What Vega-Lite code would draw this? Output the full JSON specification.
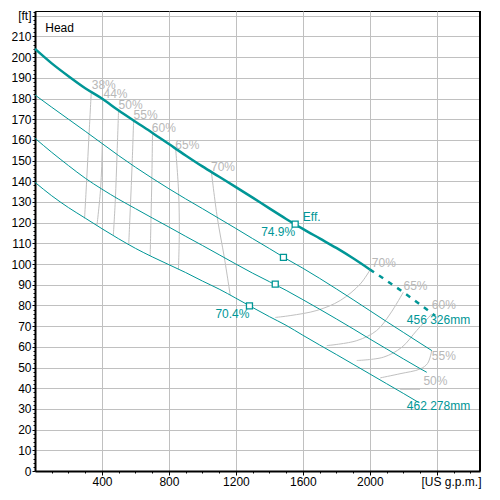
{
  "$schema": "https://vega.github.io/schema/vega-lite/v6.json",
  "width": 445,
  "height": 460,
  "autosize": {"type": "none"},
  "padding": {"left": 35, "top": 11, "right": 20, "bottom": 29},
  "background": "white",
  "config": {
    "view": {"stroke": "#000000", "strokeWidth": 1},
    "font": "Liberation Sans",
    "axis": {
      "labelFont": "Liberation Sans",
      "labelFontSize": 12,
      "labelColor": "#000000",
      "tickColor": "#000000",
      "domainColor": "#000000",
      "gridColor": "#c0c0c0",
      "gridOpacity": 1,
      "titleFont": "Liberation Sans"
    }
  },
  "datasets": {
    "curves": [
      {"series": "C1", "flow": 0, "head": 204},
      {"series": "C1", "flow": 100, "head": 197},
      {"series": "C1", "flow": 200, "head": 190.8},
      {"series": "C1", "flow": 300, "head": 185},
      {"series": "C1", "flow": 400, "head": 180},
      {"series": "C1", "flow": 500, "head": 174.2},
      {"series": "C1", "flow": 600, "head": 168.8},
      {"series": "C1", "flow": 700, "head": 163.5},
      {"series": "C1", "flow": 800, "head": 158},
      {"series": "C1", "flow": 900, "head": 152.5},
      {"series": "C1", "flow": 1000, "head": 147.2},
      {"series": "C1", "flow": 1100, "head": 142.2},
      {"series": "C1", "flow": 1200, "head": 137.2},
      {"series": "C1", "flow": 1300, "head": 132.1},
      {"series": "C1", "flow": 1400, "head": 126.9},
      {"series": "C1", "flow": 1500, "head": 121.8},
      {"series": "C1", "flow": 1600, "head": 117},
      {"series": "C1", "flow": 1700, "head": 112.4},
      {"series": "C1", "flow": 1800, "head": 107.8},
      {"series": "C1", "flow": 1900, "head": 102.8},
      {"series": "C1", "flow": 2000, "head": 97.4},
      {"series": "C1d", "flow": 2000, "head": 97.4},
      {"series": "C1d", "flow": 2100, "head": 92},
      {"series": "C1d", "flow": 2200, "head": 86.4},
      {"series": "C1d", "flow": 2300, "head": 80.5},
      {"series": "C1d", "flow": 2390, "head": 75},
      {"series": "C2", "flow": 0, "head": 181.7},
      {"series": "C2", "flow": 100, "head": 175.8},
      {"series": "C2", "flow": 200, "head": 170},
      {"series": "C2", "flow": 300, "head": 164.2},
      {"series": "C2", "flow": 400, "head": 158.3},
      {"series": "C2", "flow": 500, "head": 152.4},
      {"series": "C2", "flow": 600, "head": 146.8},
      {"series": "C2", "flow": 700, "head": 141.5},
      {"series": "C2", "flow": 800, "head": 136.4},
      {"series": "C2", "flow": 900, "head": 131.5},
      {"series": "C2", "flow": 1000, "head": 126.8},
      {"series": "C2", "flow": 1100, "head": 122},
      {"series": "C2", "flow": 1200, "head": 117.2},
      {"series": "C2", "flow": 1300, "head": 112.3},
      {"series": "C2", "flow": 1400, "head": 107.5},
      {"series": "C2", "flow": 1500, "head": 102.6},
      {"series": "C2", "flow": 1600, "head": 98},
      {"series": "C2", "flow": 1700, "head": 93.1},
      {"series": "C2", "flow": 1800, "head": 88},
      {"series": "C2", "flow": 1900, "head": 82.8},
      {"series": "C2", "flow": 2000, "head": 77.5},
      {"series": "C2", "flow": 2100, "head": 72.2},
      {"series": "C2", "flow": 2200, "head": 67},
      {"series": "C2", "flow": 2300, "head": 61.8},
      {"series": "C2", "flow": 2370, "head": 58.2},
      {"series": "C3", "flow": 0, "head": 160.8},
      {"series": "C3", "flow": 100, "head": 154},
      {"series": "C3", "flow": 200, "head": 147.6},
      {"series": "C3", "flow": 300, "head": 141.5},
      {"series": "C3", "flow": 400, "head": 136.2},
      {"series": "C3", "flow": 500, "head": 131.3},
      {"series": "C3", "flow": 600, "head": 126.8},
      {"series": "C3", "flow": 700, "head": 122.3},
      {"series": "C3", "flow": 800, "head": 117.9},
      {"series": "C3", "flow": 900, "head": 113.4},
      {"series": "C3", "flow": 1000, "head": 109},
      {"series": "C3", "flow": 1100, "head": 104.5},
      {"series": "C3", "flow": 1200, "head": 100},
      {"series": "C3", "flow": 1300, "head": 95.6},
      {"series": "C3", "flow": 1400, "head": 91.5},
      {"series": "C3", "flow": 1500, "head": 87.3},
      {"series": "C3", "flow": 1600, "head": 82.8},
      {"series": "C3", "flow": 1700, "head": 78.2},
      {"series": "C3", "flow": 1800, "head": 73.5},
      {"series": "C3", "flow": 1900, "head": 68.7},
      {"series": "C3", "flow": 2000, "head": 63.8},
      {"series": "C3", "flow": 2100, "head": 59},
      {"series": "C3", "flow": 2200, "head": 54.2},
      {"series": "C3", "flow": 2300, "head": 49.5},
      {"series": "C3", "flow": 2340, "head": 47.7},
      {"series": "C4", "flow": 0, "head": 139.5},
      {"series": "C4", "flow": 100, "head": 133},
      {"series": "C4", "flow": 200, "head": 127.3},
      {"series": "C4", "flow": 300, "head": 122.2},
      {"series": "C4", "flow": 400, "head": 117.1},
      {"series": "C4", "flow": 500, "head": 112.2},
      {"series": "C4", "flow": 600, "head": 107.6},
      {"series": "C4", "flow": 700, "head": 103.5},
      {"series": "C4", "flow": 800, "head": 99.7},
      {"series": "C4", "flow": 900, "head": 95.9},
      {"series": "C4", "flow": 1000, "head": 91.8},
      {"series": "C4", "flow": 1100, "head": 87.9},
      {"series": "C4", "flow": 1200, "head": 83.5},
      {"series": "C4", "flow": 1300, "head": 79},
      {"series": "C4", "flow": 1400, "head": 74.6},
      {"series": "C4", "flow": 1500, "head": 70.4},
      {"series": "C4", "flow": 1600, "head": 65.6},
      {"series": "C4", "flow": 1700, "head": 60.9},
      {"series": "C4", "flow": 1800, "head": 56.3},
      {"series": "C4", "flow": 1900, "head": 51.6},
      {"series": "C4", "flow": 2000, "head": 46.9},
      {"series": "C4", "flow": 2100, "head": 42.2},
      {"series": "C4", "flow": 2200, "head": 37.5},
      {"series": "C4", "flow": 2290, "head": 33.2}
    ],
    "iso": [
      {"line": "38", "seq": 1, "flow": 336, "head": 183},
      {"line": "38", "seq": 2, "flow": 323, "head": 163},
      {"line": "38", "seq": 3, "flow": 309, "head": 141},
      {"line": "38", "seq": 4, "flow": 296, "head": 122},
      {"line": "44", "seq": 1, "flow": 404, "head": 179.8},
      {"line": "44", "seq": 2, "flow": 402, "head": 158.2},
      {"line": "44", "seq": 3, "flow": 392, "head": 136.6},
      {"line": "44", "seq": 4, "flow": 370, "head": 118.6},
      {"line": "50", "seq": 1, "flow": 499, "head": 174.2},
      {"line": "50", "seq": 2, "flow": 490, "head": 152.9},
      {"line": "50", "seq": 3, "flow": 480, "head": 131.3},
      {"line": "50", "seq": 4, "flow": 468, "head": 114},
      {"line": "55", "seq": 1, "flow": 589, "head": 169.3},
      {"line": "55", "seq": 2, "flow": 580, "head": 148},
      {"line": "55", "seq": 3, "flow": 570, "head": 128.2},
      {"line": "55", "seq": 4, "flow": 560, "head": 109.8},
      {"line": "60", "seq": 1, "flow": 702, "head": 163.4},
      {"line": "60", "seq": 2, "flow": 698, "head": 141.6},
      {"line": "60", "seq": 3, "flow": 693, "head": 122.6},
      {"line": "60", "seq": 4, "flow": 688, "head": 104},
      {"line": "65", "seq": 1, "flow": 840, "head": 156},
      {"line": "65", "seq": 2, "flow": 858, "head": 134.4},
      {"line": "65", "seq": 3, "flow": 862, "head": 116},
      {"line": "65", "seq": 4, "flow": 857, "head": 97.5},
      {"line": "70", "seq": 1, "flow": 1053, "head": 145},
      {"line": "70", "seq": 2, "flow": 1089, "head": 122.4},
      {"line": "70", "seq": 3, "flow": 1131, "head": 103.1},
      {"line": "70", "seq": 4, "flow": 1166, "head": 85},
      {"line": "70r", "seq": 1, "flow": 2002, "head": 97.3},
      {"line": "70r", "seq": 2, "flow": 1943, "head": 90.4},
      {"line": "70r", "seq": 3, "flow": 1823, "head": 82.4},
      {"line": "70r", "seq": 4, "flow": 1684, "head": 77.6},
      {"line": "70r", "seq": 5, "flow": 1524, "head": 75.1},
      {"line": "70r", "seq": 6, "flow": 1435, "head": 74.2},
      {"line": "65r", "seq": 1, "flow": 2200, "head": 86.4},
      {"line": "65r", "seq": 2, "flow": 2121, "head": 75.9},
      {"line": "65r", "seq": 3, "flow": 2041, "head": 67.9},
      {"line": "65r", "seq": 4, "flow": 1922, "head": 63},
      {"line": "65r", "seq": 5, "flow": 1743, "head": 60.6},
      {"line": "60r", "seq": 1, "flow": 2370, "head": 75.9},
      {"line": "60r", "seq": 2, "flow": 2280, "head": 67.9},
      {"line": "60r", "seq": 3, "flow": 2191, "head": 59.8},
      {"line": "60r", "seq": 4, "flow": 2081, "head": 55},
      {"line": "60r", "seq": 5, "flow": 1922, "head": 53.4},
      {"line": "55r", "seq": 1, "flow": 2370, "head": 58.2},
      {"line": "55r", "seq": 2, "flow": 2345, "head": 52},
      {"line": "55r", "seq": 3, "flow": 2300, "head": 49.3},
      {"line": "55r", "seq": 4, "flow": 2180, "head": 47},
      {"line": "55r", "seq": 5, "flow": 2062, "head": 45},
      {"line": "50r", "seq": 1, "flow": 2181, "head": 39.5},
      {"line": "50r", "seq": 2, "flow": 2300, "head": 39.5}
    ],
    "bep": [
      {"series": "C1", "flow": 1554, "head": 119.3},
      {"series": "C2", "flow": 1484, "head": 103.2},
      {"series": "C3", "flow": 1435, "head": 90.3},
      {"series": "C4", "flow": 1281, "head": 79.8}
    ],
    "effLabels": [
      {"text": "38%", "flow": 339, "head": 186.6},
      {"text": "44%", "flow": 409, "head": 182.2},
      {"text": "50%", "flow": 499, "head": 176.9},
      {"text": "55%", "flow": 589, "head": 172.1},
      {"text": "60%", "flow": 698, "head": 165.8},
      {"text": "65%", "flow": 838, "head": 157.7},
      {"text": "70%", "flow": 1051, "head": 147.1},
      {"text": "70%", "flow": 2012, "head": 100.4},
      {"text": "65%", "flow": 2201, "head": 89.6},
      {"text": "60%", "flow": 2370, "head": 80},
      {"text": "55%", "flow": 2370, "head": 55.8},
      {"text": "50%", "flow": 2320, "head": 43.7}
    ],
    "curveLabels": [
      {"text": "Eff.", "flow": 1600, "head": 122.6},
      {"text": "456 326mm", "flow": 2221, "head": 73},
      {"text": "462 278mm", "flow": 2221, "head": 31.6}
    ],
    "bepLabels": [
      {"text": "74.9%", "flow": 1554, "head": 115.7},
      {"text": "70.4%", "flow": 1281, "head": 75.9}
    ],
    "title": [
      {"text": "Head", "flow": 61, "head": 214.1}
    ]
  },
  "resolve": {"axis": {"x": "independent", "y": "independent"}},
  "layer": [
    {
      "data": {"name": "iso"},
      "mark": {"type": "line", "color": "#c0c0c0", "strokeWidth": 1, "interpolate": "catmull-rom"},
      "encoding": {
        "x": {
          "field": "flow", "type": "quantitative",
          "axis": {
            "orient": "bottom", "grid": false, "labels": false, "domain": false, "title": null,
            "tickSize": 2, "tickWidth": 1,
            "values": [100, 200, 300, 500, 600, 700, 900, 1000, 1100, 1300, 1400, 1500, 1700, 1800, 1900, 2100, 2200, 2300, 2500, 2600]
          }
        },
        "y": {
          "field": "head", "type": "quantitative",
          "axis": {
            "orient": "left", "grid": false, "labels": false, "domain": false, "title": null,
            "tickSize": 2, "tickWidth": 1,
            "values": [2, 4, 6, 8, 12, 14, 16, 18, 22, 24, 26, 28, 32, 34, 36, 38, 42, 44, 46, 48, 52, 54, 56, 58, 62, 64, 66, 68, 72, 74, 76, 78, 82, 84, 86, 88, 92, 94, 96, 98, 102, 104, 106, 108, 112, 114, 116, 118, 122, 124, 126, 128, 132, 134, 136, 138, 142, 144, 146, 148, 152, 154, 156, 158, 162, 164, 166, 168, 172, 174, 176, 178, 182, 184, 186, 188, 192, 194, 196, 198, 202, 204, 206, 208, 212, 214, 216, 218, 222]
          }
        },
        "detail": {"field": "line"},
        "order": {"field": "seq"}
      }
    },
    {
      "data": {"name": "curves"},
      "transform": [{"filter": "datum.series == 'C2' || datum.series == 'C3' || datum.series == 'C4'"}],
      "mark": {"type": "line", "color": "#009696", "strokeWidth": 1, "interpolate": "monotone"},
      "encoding": {
        "x": {
          "field": "flow", "type": "quantitative",
          "scale": {"domain": [0, 2658], "nice": false, "zero": false},
          "axis": {
            "orient": "bottom", "grid": true, "gridWidth": 1, "domainWidth": 2,
            "tickSize": 4, "tickWidth": 1, "labelPadding": 1, "format": "d",
            "labelFlush": false, "labelOverlap": false,
            "values": [400, 800, 1200, 1600, 2000, 2400],
            "labelExpr": "datum.value == 2400 ? '' : datum.label",
            "title": "[US g.p.m.]", "titleX": 446, "titleY": 5,
            "titleAlign": "right", "titleBaseline": "top",
            "titleFontSize": 12, "titleFontWeight": "normal", "titleColor": "#000000"
          }
        },
        "y": {
          "field": "head", "type": "quantitative",
          "scale": {"domain": [0, 222.3], "nice": false, "zero": false},
          "axis": {
            "orient": "left", "grid": true, "gridWidth": 1, "domainWidth": 2,
            "tickSize": 3, "tickWidth": 1, "labelPadding": 1,
            "labelFlush": false, "labelOverlap": false, "title": null,
            "values": [0, 10, 20, 30, 40, 50, 60, 70, 80, 90, 100, 110, 120, 130, 140, 150, 160, 170, 180, 190, 200, 210, 220],
            "labelExpr": "datum.value == 220 ? '[ft]' : datum.label"
          }
        },
        "detail": {"field": "series"},
        "order": {"field": "flow"}
      }
    },
    {
      "data": {"name": "curves"},
      "transform": [{"filter": "datum.series == 'C1'"}],
      "mark": {"type": "line", "color": "#009696", "strokeWidth": 2.5, "interpolate": "monotone"},
      "encoding": {
        "x": {"field": "flow", "type": "quantitative", "axis": null},
        "y": {"field": "head", "type": "quantitative", "axis": null},
        "order": {"field": "flow"}
      }
    },
    {
      "data": {"name": "curves"},
      "transform": [{"filter": "datum.series == 'C1d'"}],
      "mark": {"type": "line", "color": "#009696", "strokeWidth": 2.5, "strokeDash": [5, 6], "interpolate": "monotone"},
      "encoding": {
        "x": {"field": "flow", "type": "quantitative", "axis": null},
        "y": {"field": "head", "type": "quantitative", "axis": null},
        "order": {"field": "flow"}
      }
    },
    {
      "data": {"name": "bep"},
      "mark": {"type": "point", "shape": "square", "size": 36, "filled": true, "fill": "white", "stroke": "#009696", "strokeWidth": 1.3, "opacity": 1},
      "encoding": {
        "x": {"field": "flow", "type": "quantitative", "axis": null},
        "y": {"field": "head", "type": "quantitative", "axis": null}
      }
    },
    {
      "data": {"name": "effLabels"},
      "mark": {"type": "text", "align": "left", "baseline": "middle", "fontSize": 12, "color": "#b8b8b8", "font": "Liberation Sans"},
      "encoding": {
        "x": {"field": "flow", "type": "quantitative", "axis": null},
        "y": {"field": "head", "type": "quantitative", "axis": null},
        "text": {"field": "text"}
      }
    },
    {
      "data": {"name": "curveLabels"},
      "mark": {"type": "text", "align": "left", "baseline": "middle", "fontSize": 12, "color": "#009696", "font": "Liberation Sans"},
      "encoding": {
        "x": {"field": "flow", "type": "quantitative", "axis": null},
        "y": {"field": "head", "type": "quantitative", "axis": null},
        "text": {"field": "text"}
      }
    },
    {
      "data": {"name": "bepLabels"},
      "mark": {"type": "text", "align": "right", "baseline": "middle", "fontSize": 12, "color": "#009696", "font": "Liberation Sans"},
      "encoding": {
        "x": {"field": "flow", "type": "quantitative", "axis": null},
        "y": {"field": "head", "type": "quantitative", "axis": null},
        "text": {"field": "text"}
      }
    },
    {
      "data": {"name": "title"},
      "mark": {"type": "text", "align": "left", "baseline": "middle", "fontSize": 12, "color": "#000000", "font": "Liberation Sans"},
      "encoding": {
        "x": {"field": "flow", "type": "quantitative", "axis": null},
        "y": {"field": "head", "type": "quantitative", "axis": null},
        "text": {"field": "text"}
      }
    },
    {
      "data": {"values": [{}]},
      "mark": {"type": "rule", "color": "#000000", "strokeWidth": 2},
      "encoding": {
        "x": {"datum": 2658, "type": "quantitative", "axis": null}
      }
    }
  ]
}
